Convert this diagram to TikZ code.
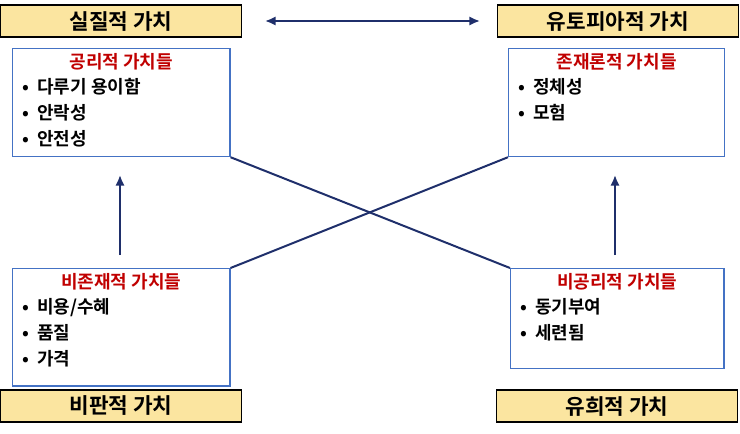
\documentclass[tikz,border=0pt]{standalone}
\usepackage{fontspec}
\setmainfont{Noto Sans CJK KR}[BoldFont={Noto Sans CJK KR Bold}]
\usetikzlibrary{arrows.meta,positioning}
\definecolor{titlefill}{HTML}{FBE5A0}
\definecolor{boxline}{HTML}{4472C4}
\definecolor{linkcol}{HTML}{1F2F6B}
\definecolor{headred}{HTML}{C00000}
\tikzset{
  valuetitle/.style={draw=black,fill=titlefill,line width=0.9pt,minimum width=181pt,
    minimum height=24pt,font=\bfseries\fontsize{16}{18}\selectfont,inner sep=0pt},
  valuebox/.style={draw=boxline,line width=0.9pt,anchor=north west,inner sep=0pt},
  itemlist/.style={anchor=north west,align=left,font=\bfseries\fontsize{13.5}{19.5}\selectfont,inner sep=0pt},
  heading/.style={anchor=north,text=headred,font=\bfseries\fontsize{13.5}{15}\selectfont,inner sep=0pt},
  link/.style={draw=linkcol,line width=1.5pt}
}
\begin{document}
\begin{tikzpicture}[x=0.75pt,y=-0.75pt]
\useasboundingbox (0,0) rectangle (740,433);
% titles
\node (prac) [valuetitle] at (121,21) {실질적 가치};
\node (utop) [valuetitle] at (618,21) {유토피아적 가치};
\node (crit) [valuetitle] at (121,406) {비판적 가치};
\node (play) [valuetitle] at (617,406) {유희적 가치};
\draw[link,{Latex[length=8pt,width=7pt]}-{Latex[length=8pt,width=7pt]}] (265,21) -- (480,21);
% boxes
\node (util) [valuebox,minimum width=163pt,minimum height=81pt] at (12,48) {};
\node (exist) [valuebox,minimum width=162pt,minimum height=81pt] at (508,48) {};
\node (nonex) [valuebox,minimum width=163pt,minimum height=88pt] at (12,268) {};
\node (nonut) [valuebox,minimum width=160pt,minimum height=75pt] at (510,268) {};
% contents
\node [heading] at ([yshift=-4pt]util.north) {공리적 가치들};
\node [itemlist] at (22,78) {•\ \ 다루기 용이함\\•\ \ 안락성\\•\ \ 안전성};
\node [heading] at ([yshift=-4pt]exist.north) {존재론적 가치들};
\node [itemlist] at (518,78) {•\ \ 정체성\\•\ \ 모험};
\node [heading] at ([yshift=-4pt]nonex.north) {비존재적 가치들};
\node [itemlist] at (22,298) {•\ \ 비용/수혜\\•\ \ 품질\\•\ \ 가격};
\node [heading] at ([yshift=-4pt]nonut.north) {비공리적 가치들};
\node [itemlist] at (520,298) {•\ \ 동기부여\\•\ \ 세련됨};
% links
\draw[link,-{Latex[length=8pt,width=7pt]}] (120,255) -- (120,175);
\draw[link,-{Latex[length=8pt,width=7pt]}] (615,255) -- (615,175);
\draw[link] (util.south east) -- (nonut.north west);
\draw[link] (nonex.north east) -- (exist.south west);
\end{tikzpicture}
\end{document}
